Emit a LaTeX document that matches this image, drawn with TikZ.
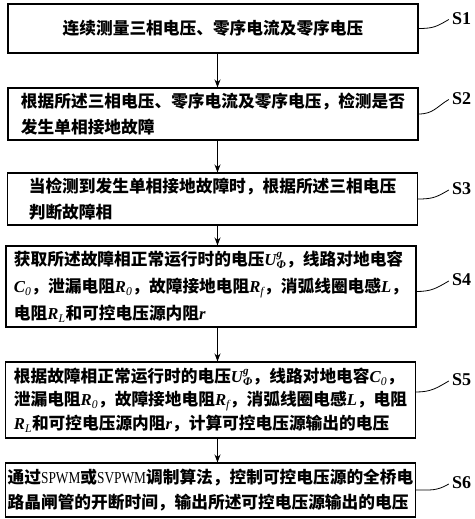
\documentclass[tikz,border=0pt]{standalone}
\usepackage{fontspec}
\setmainfont{Noto Sans CJK SC}
\newfontfamily\latf{Liberation Serif}
\newfontfamily\latn{Liberation Serif}[FakeStretch=0.8]
\usetikzlibrary{arrows.meta}
\newcommand\vb[1]{{\latf\bfseries\itshape #1}}
\newcommand\vs[2]{{\latf\bfseries\itshape #1\textsubscript{\mdseries #2}}}
\newcommand\Uphi{{\latf\bfseries\itshape U\rlap{\raisebox{1.05ex}{\fontsize{11pt}{11pt}\selectfont g}}\textsubscript{Φ}}}
\newcommand\pwm[1]{{\latn\mdseries #1}}
\begin{document}
\begin{tikzpicture}[x=1pt,y=-1pt,
  box/.style={draw, line width=1.1pt, minimum width=410pt, align=left, inner sep=0pt,
    font=\bfseries\fontsize{16.7pt}{26pt}\selectfont},
  arr/.style={line width=1pt, -{Stealth[length=8pt,width=6pt]}},
  lead/.style={line width=0.8pt},
  lab/.style={inner sep=0pt, font=\latf\bfseries\fontsize{18pt}{18pt}\selectfont}]
\useasboundingbox (0,0) rectangle (474,519);
\coordinate (ax) at (217.5,0);
\node[box, minimum height=49pt] (s1) at (213,28.5) {连续测量三相电压、零序电流及零序电压};
\node[box, minimum height=52pt] (s2) at (213,114) {根据所述三相电压、零序电流及零序电压，检测是否\\发生单相接地故障};
\node[box, minimum height=52pt] (s3) at (212.5,199) {当检测到发生单相接地故障时，根据所述三相电压\\判断故障相};
\node[box, minimum height=81pt, font=\bfseries\fontsize{16.7pt}{27pt}\selectfont] (s4) at (211,286.5) {获取所述故障相正常运行时的电压\Uphi，线路对地电容\\\vs{C}{0}，泄漏电阻\vs{R}{0}，故障接地电阻\vs{R}{f}，消弧线圈电感\vb{L}，\\电阻\vs{R}{L}和可控电压源内阻\vb{r}};
\node[box, minimum height=76pt, font=\bfseries\fontsize{16.7pt}{23.5pt}\selectfont] (s5) at (210.5,400) {根据故障相正常运行时的电压\Uphi，线路对地电容\vs{C}{0}，\\泄漏电阻\vs{R}{0}，故障接地电阻\vs{R}{f}，消弧线圈电感\vb{L}，电阻\\\vs{R}{L}和可控电压源内阻\vb{r}，计算可控电压源输出的电压};
\node[box, minimum height=54pt, font=\bfseries\fontsize{16.7pt}{25pt}\selectfont] (s6) at (210.5,490) {通过\pwm{SPWM}或\pwm{SVPWM}调制算法，控制可控电压源的全桥电\\路晶闸管的开断时间，输出所述可控电压源输出的电压};
\draw[arr] (s1.south -| ax) -- (s2.north -| ax);
\draw[arr] (s2.south -| ax) -- (s3.north -| ax);
\draw[arr] (s3.south -| ax) -- (s4.north -| ax);
\draw[arr] (s4.south -| ax) -- (s5.north -| ax);
\draw[arr] (s5.south -| ax) -- (s6.north -| ax);
\node[lab] (l1) at (461.5,18.5) {S1};
\node[lab] (l2) at (461.5,98.5) {S2};
\node[lab] (l3) at (461.5,189) {S3};
\node[lab] (l4) at (461.5,280) {S4};
\node[lab] (l5) at (461.5,380) {S5};
\node[lab] (l6) at (461.5,483) {S6};
\draw[lead] (s1.east) .. controls +(15,0) and +(-12,7) .. ([xshift=-3pt,yshift=-1pt]l1.west);
\draw[lead] (s2.east) .. controls +(15,0) and +(-12,7) .. ([xshift=-3pt,yshift=-1pt]l2.west);
\draw[lead] (s3.east) .. controls +(15,0) and +(-12,7) .. ([xshift=-3pt,yshift=-1pt]l3.west);
\draw[lead] ([yshift=-5pt]s4.east) .. controls +(15,0) and +(-12,7) .. ([xshift=-3pt,yshift=-1pt]l4.west);
\draw[lead] ([yshift=8pt]s5.east) .. controls +(15,0) and +(-12,7) .. ([xshift=-3pt,yshift=-1pt]l5.west);
\draw[lead] (s6.east) .. controls +(15,0) and +(-12,7) .. ([xshift=-3pt,yshift=-1pt]l6.west);
\end{tikzpicture}
\end{document}
